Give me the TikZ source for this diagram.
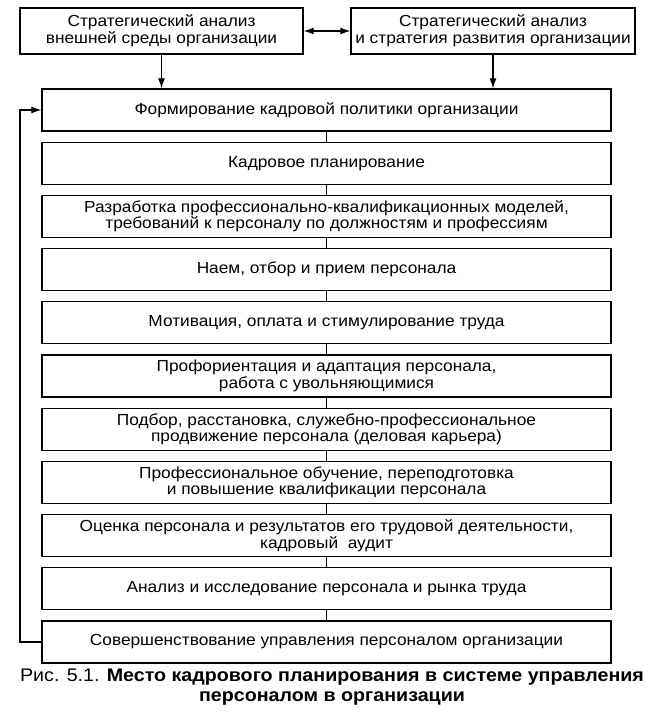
\documentclass[tikz,border=0pt]{standalone}
\usepackage{fontspec}
\setmainfont{Liberation Sans}[FakeStretch=1.08]
\usetikzlibrary{arrows.meta}

\tikzset{
  box/.style={draw, line width=1.3pt, minimum width=569pt, minimum height=42pt, align=center, inner sep=0pt, font=\fontsize{16}{16.5}\selectfont},
  topbox/.style={draw, line width=1.3pt, minimum width=283pt, minimum height=46pt, align=center, inner sep=0pt, font=\fontsize{16}{17}\selectfont},
  link/.style={line width=1.2pt},
  arr/.style={line width=1.2pt, -{Latex[length=10pt,width=7pt]}}
}

\begin{document}
\begin{tikzpicture}[x=1pt,y=-1pt]
  \useasboundingbox (0,0) rectangle (651,722);

  % Two boxes on top
  \node[topbox] (extern) at (161.5,31) {Стратегический анализ\\внешней среды организации};
  \node[topbox, minimum width=284pt] (strat) at (493,31) {Стратегический анализ\\и стратегия развития организации};

  % The chain of boxes
  \node[box] (policy) at (326.5,110) {Формирование кадровой политики организации};
  \node[box] (plan) at (326.5,163.2) {Кадровое планирование};
  \node[box] (models) at (326.5,216.4) {Разработка профессионально-квалификационных моделей,\\требований к персоналу по должностям и профессиям};
  \node[box] (hire) at (326.5,269.6) {Наем, отбор и прием персонала};
  \node[box] (motiv) at (326.5,322.8) {Мотивация, оплата и стимулирование труда};
  \node[box] (adapt) at (326.5,376) {Профориентация и адаптация персонала,\\работа с увольняющимися};
  \node[box] (career) at (326.5,429.2) {Подбор, расстановка, служебно-профессиональное\\продвижение персонала (деловая карьера)};
  \node[box] (train) at (326.5,482.4) {Профессиональное обучение, переподготовка\\и повышение квалификации персонала};
  \node[box] (assess) at (326.5,535.6) {Оценка персонала и результатов его трудовой деятельности,\\кадровый\ \ аудит};
  \node[box] (market) at (326.5,588.8) {Анализ и исследование персонала и рынка труда};
  \node[box] (improve) at (326.5,642) {Совершенствование управления персоналом организации};

  % Caption
  \node[align=center, inner sep=0pt, font=\fontsize{18.2}{20}\selectfont] (caption) at (332,687) {Рис. 5.1. \textbf{Место кадрового планирования в системе управления}\\\textbf{персоналом в организации}};

  % Arrows between the top boxes and down
  \draw[line width=1.2pt, {Latex[length=10pt,width=7pt]}-{Latex[length=10pt,width=7pt]}] (extern.east) -- (strat.west);
  \draw[arr] (extern.south) -- (extern.south |- policy.north);
  \draw[arr] (strat.south) -- (strat.south |- policy.north);

  % Lines down the chain
  \draw[link] (policy) -- (plan);
  \draw[link] (plan) -- (models);
  \draw[link] (models) -- (hire);
  \draw[link] (hire) -- (motiv);
  \draw[link] (motiv) -- (adapt);
  \draw[link] (adapt) -- (career);
  \draw[link] (career) -- (train);
  \draw[link] (train) -- (assess);
  \draw[link] (assess) -- (market);
  \draw[link] (market) -- (improve);

  % Feedback loop
  \coordinate (back) at (20,642);
  \draw[arr] (improve.west) -- (back) |- (policy.west);
\end{tikzpicture}
\end{document}
